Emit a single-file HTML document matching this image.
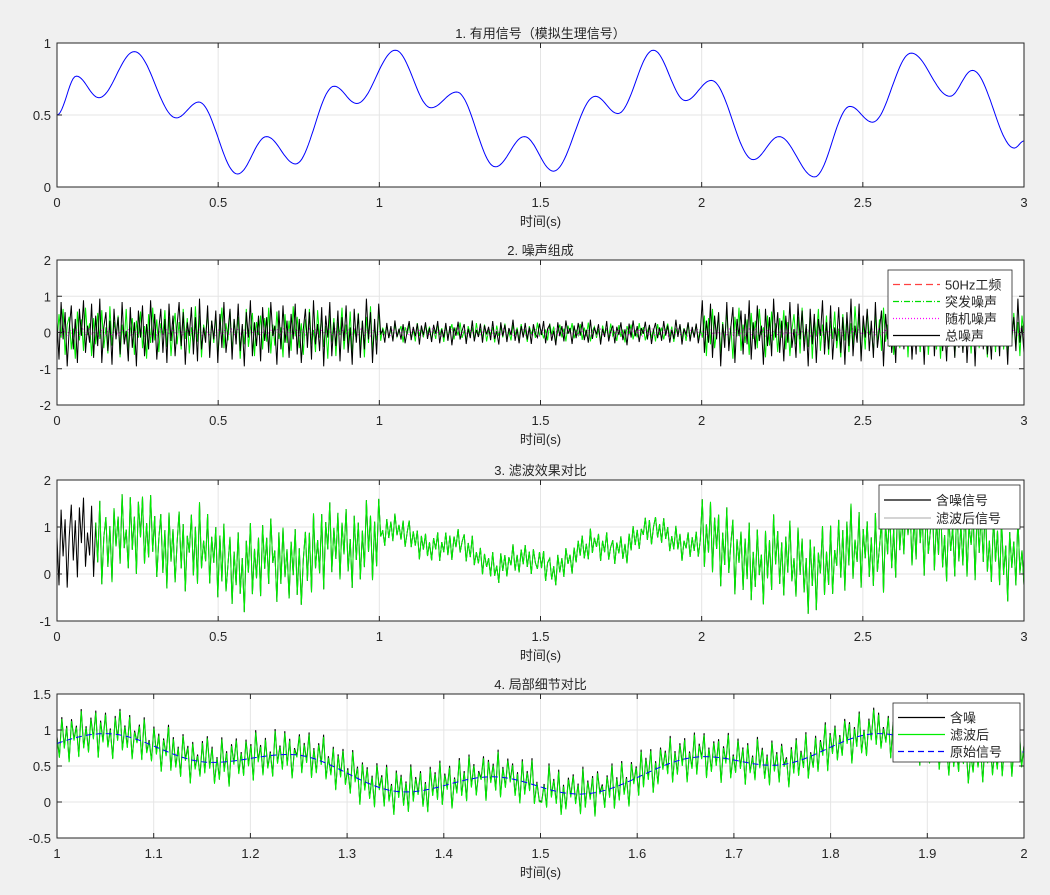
<!DOCTYPE html>
<html><head><meta charset="utf-8"><style>
html,body{margin:0;padding:0;background:#f0f0f0;width:1050px;height:895px;overflow:hidden}
svg{display:block;font-family:"Liberation Sans","Noto Sans CJK SC",sans-serif}
</style></head><body>
<svg id="fig" width="1050" height="895"></svg>
<script>
// Panel 1 signal (read at extrema)
const sigT=[0,0.06,0.13,0.24,0.37,0.44,0.56,0.65,0.74,0.86,0.93,1.05,1.16,1.24,1.36,1.45,1.54,1.67,1.74,1.85,1.95,2.03,2.16,2.24,2.35,2.46,2.53,2.65,2.77,2.84,2.97,3.0];
const sigV=[0.5,0.77,0.62,0.94,0.48,0.59,0.09,0.35,0.16,0.70,0.58,0.95,0.55,0.66,0.14,0.35,0.11,0.63,0.51,0.95,0.60,0.74,0.19,0.35,0.07,0.56,0.45,0.93,0.63,0.81,0.27,0.32];
// noise envelope per segment [0-1],[1-2],[2-3]
const envBreaks=[0,1,2,3];
const envAmp=[0.85,0.32,0.85];
const noiseA=[0.3,-0.8,0.9,-0.2,0.6,-1.0,0.1,0.8,-0.5,0.4,-0.9,0.7,-0.1,0.95,-0.6,0.2,-0.3,0.85,-0.75,0.5,-0.4,1.0,-0.9,0.15,0.6,-0.55,0.35,-0.95,0.7,-0.2,0.45,-0.65,0.9,-0.35,0.05,-0.85,0.75,-0.45,0.3,-1.0,0.65,-0.15,0.8,-0.7,0.25,-0.5,0.95,-0.3,0.55,-0.8,0.1,0.7,-0.6,0.4,-0.9,0.85,-0.25,0.5,-0.7,0.2,
0.9,-0.4,0.6,-0.95,0.3,-0.1,0.75,-0.65,0.45,-0.85,1.0,-0.5,0.15,-0.3,0.8,-0.75,0.35,-0.2,0.65,-0.9,0.55,-0.45,0.9,-0.6,0.05,0.7,-0.8,0.4,-0.35,0.85,-0.55,0.25,-1.0,0.6,-0.15,0.95,-0.7,0.3,-0.4,0.5,-0.85,0.75,-0.25,0.45,-0.6,0.9,-0.1,0.2,-0.95,0.65,-0.5,0.8,-0.3,0.35,-0.75,0.55,
-0.2,0.85,-0.65,0.4,-0.9,0.1,0.7,-0.45,0.6,-0.8,0.95,-0.35,0.25,-0.55,0.75,-1.0,0.5,-0.15,0.9,-0.7,0.3,-0.4,0.65,-0.85,0.45,-0.25,0.8,-0.6,0.15,-0.95,0.7,-0.3,0.55,-0.75,0.35,-0.5,1.0,-0.2,0.6,-0.9,0.4,-0.65,0.85,-0.1,0.2,-0.8,0.75,-0.45,0.5,-0.7,0.95,-0.35,0.3,-0.55,0.65,-0.85,0.1,0.9,-0.6,0.45,
-0.3,0.7,-0.95,0.55,-0.2,0.8,-0.5,0.35,-0.75,0.6,-0.1,0.9,-0.85,0.25,-0.4,0.75,-0.65,0.5,-1.0,0.4,-0.25,0.85,-0.55,0.15,0.65,-0.9,0.3,-0.45,0.95,-0.7,0.2,-0.35,0.7,-0.8,0.55,-0.15,0.45,-0.6,0.9,-0.5,0.1,-0.95,0.8,-0.3,0.6,-0.75,0.35,-0.2,1.0,-0.65,0.25,-0.85,0.5,-0.4,0.75,-0.55,0.4,-0.9,0.65,-0.1];
const noiseB=[-0.4,0.7,-0.2,0.9,-0.85,0.3,0.6,-0.65,0.15,-1.0,0.8,-0.3,0.5,-0.7,0.95,-0.1,0.35,-0.9,0.55,-0.45,0.75,-0.25,0.85,-0.6,0.2,-0.8,1.0,-0.5,0.4,-0.15,0.65,-0.95,0.3,-0.35,0.9,-0.7,0.1,0.55,-0.85,0.45,-0.2,0.8,-0.6,0.25,-1.0,0.7,-0.4,0.95,-0.3,0.5,-0.75,0.35,-0.1,0.85,-0.55,0.6,-0.9,0.15,0.75,-0.45,
0.4,-0.65,0.9,-0.25,0.55,-0.8,0.2,-0.5,1.0,-0.35,0.65,-0.95,0.3,-0.15,0.8,-0.7,0.45,-0.4,0.7,-0.85,0.1,0.95,-0.6,0.35,-0.3,0.85,-0.75,0.5,-0.2,0.6,-1.0,0.25,-0.45,0.9,-0.55,0.15,0.75,-0.9,0.4,-0.1,0.65,-0.65,0.55,-0.35,0.95,-0.8,0.3,-0.5,0.8,-0.25,0.2,-0.95,0.7,-0.4,0.45,-0.7,1.0,-0.15,0.6,-0.6,
0.35,-0.85,0.5,-0.3,0.9,-0.45,0.1,-0.75,0.85,-0.2,0.65,-0.55,0.25,-1.0,0.7,-0.35,0.55,-0.9,0.4,-0.1,0.95,-0.65,0.3,-0.5,0.8,-0.8,0.15,-0.25,0.75,-0.6,0.45,-0.95,0.6,-0.4,1.0,-0.7,0.2,-0.3,0.85,-0.85,0.5,-0.15,0.7,-0.55,0.35,-0.75,0.9,-0.45,0.1,0.65,-1.0,0.55,-0.2,0.8,-0.6,0.25,-0.9,0.95,-0.35,0.4,
-0.5,0.75,-0.1,0.6,-0.8,0.3,-0.65,0.9,-0.25,0.45,-0.95,0.7,-0.4,0.15,0.85,-0.7,0.5,-0.3,1.0,-0.55,0.2,-0.85,0.65,-0.15,0.4,-0.75,0.95,-0.45,0.35,-0.6,0.8,-0.9,0.25,-0.2,0.55,-1.0,0.7,-0.35,0.6,-0.5,0.9,-0.65,0.1,-0.8,0.75,-0.25,0.5,-0.7,0.85,-0.4,0.3,-0.95,0.65,-0.15,0.45,-0.55,1.0,-0.3,0.2,-0.6];
const noiseC=[0.2,-0.6,0.9,-0.3,0.5,-0.9,0.7,-0.1,0.4,-0.8,1.0,-0.5,0.3,-0.7,0.6,-0.2,0.85,-0.95,0.45,-0.35,0.75,-0.55,0.15,-1.0,0.65,-0.25,0.95,-0.6,0.35,-0.45,0.8,-0.85,0.25,-0.15,0.55,-0.75,0.9,-0.4,0.1,-0.65,0.7,-0.3,0.5,-0.9,0.4,-0.2,1.0,-0.7,0.6,-0.5,
0.3,-0.8,0.85,-0.1,0.45,-0.95,0.65,-0.35,0.2,-0.6,0.75,-0.45,0.95,-0.25,0.55,-0.85,0.15,-0.7,0.9,-0.4,0.35,-1.0,0.6,-0.15,0.8,-0.55,0.25,-0.65,0.7,-0.3,0.5,-0.9,1.0,-0.2,0.4,-0.75,0.65,-0.5,0.1,-0.85,0.95,-0.35,0.3,-0.6,0.85,-0.45,0.55,-0.95,0.2,-0.1,
0.75,-0.7,0.45,-0.25,0.9,-0.8,0.35,-0.55,0.6,-0.15,1.0,-0.65,0.25,-0.4,0.7,-0.9,0.5,-0.3,0.8,-0.5,0.15,-0.75,0.95,-0.2,0.4,-1.0,0.65,-0.35,0.55,-0.6,0.3,-0.85,0.85,-0.1,0.45,-0.7,0.9,-0.45,0.2,-0.95,0.75,-0.25,0.6,-0.55,0.35,-0.8,1.0,-0.4,0.5,-0.15,
0.7,-0.65,0.25,-0.9,0.8,-0.3,0.55,-0.5,0.95,-0.75,0.4,-0.2,0.65,-1.0,0.15,-0.45,0.85,-0.6,0.3,-0.85,0.9,-0.35,0.5,-0.7,0.2,-0.1,0.75,-0.95,0.6,-0.25,0.45,-0.55,1.0,-0.8,0.35,-0.4,0.7,-0.15,0.55,-0.65,0.25,-0.9,0.8,-0.5,0.4,-0.3,0.95,-0.75,0.1,-0.6];
const small50=[0.1,-0.1];

const NS="http://www.w3.org/2000/svg";
const svg=document.getElementById('fig');
function mk(tag,attrs,parent){const e=document.createElementNS(NS,tag);for(const k in attrs)e.setAttribute(k,attrs[k]);(parent||svg).appendChild(e);return e;}
function txt(x,y,s,anchor,size,parent){const t=mk('text',{x:x,y:y,'text-anchor':anchor||'middle','font-size':size||13,fill:'#262626'},parent);t.textContent=s;return t;}

function sig(t){
  let i=0;while(i<sigT.length-2&&t>sigT[i+1])i++;
  const t0=sigT[i],t1=sigT[i+1],u=(t-t0)/(t1-t0);
  const h=(1-Math.cos(Math.PI*u))/2;return sigV[i]+(sigV[i+1]-sigV[i])*h;
}
function env(t){for(let i=0;i<envAmp.length;i++)if(t<envBreaks[i+1]||i==envAmp.length-1)return envAmp[i];}
const noiseAB=noiseA.concat(noiseB);
const noiseBA=noiseB.concat(noiseA);
const noiseCC=noiseC.concat(noiseC.slice().reverse());

const X0=57,X1=1024;
function makeAxes(p){
  const g=mk('g',{});
  
  
  const sx=v=>X0+(v-p.xmin)/(p.xmax-p.xmin)*(X1-X0);
  const sy=v=>p.bot-(v-p.ymin)/(p.ymax-p.ymin)*(p.bot-p.top);
  mk('rect',{x:X0,y:p.top,width:X1-X0,height:p.bot-p.top,fill:'#fff'},g);
  const grid=mk('g',{stroke:'#e5e5e5','stroke-width':1},g);
  
  p.xt.forEach(v=>mk('line',{x1:sx(v),x2:sx(v),y1:p.top,y2:p.bot},grid));
  p.yt.forEach(v=>mk('line',{x1:X0,x2:X1,y1:sy(v),y2:sy(v)},grid));
  const plot=mk('g',{},g);
  const clip=mk('clipPath',{id:'c'+p.id},g);mk('rect',{x:X0,y:p.top,width:X1-X0,height:p.bot-p.top},clip);
  plot.setAttribute('clip-path','url(#c'+p.id+')');
  p.draw(plot,sx,sy);
  mk('rect',{x:X0,y:p.top,width:X1-X0,height:p.bot-p.top,fill:'none',stroke:'#262626','stroke-width':1},g);
  const tk=mk('g',{},g);
  p.xt.forEach((v,i)=>{mk('line',{x1:sx(v),x2:sx(v),y1:p.bot,y2:p.bot-5,stroke:'#262626'},g);mk('line',{x1:sx(v),x2:sx(v),y1:p.top,y2:p.top+5,stroke:'#262626'},g);txt(sx(v),p.bot+20,p.xl[i],'middle',13,tk);});
  const ty=mk('g',{},g);
  p.yt.forEach((v,i)=>{mk('line',{x1:X0,x2:X0+5,y1:sy(v),y2:sy(v),stroke:'#262626'},g);mk('line',{x1:X1,x2:X1-5,y1:sy(v),y2:sy(v),stroke:'#262626'},g);txt(X0-6,sy(v)+5,p.yl[i],'end',13,ty);});
  const tt=txt((X0+X1)/2,p.top-5,p.title,'middle',13,g);
  const xl=txt((X0+X1)/2,p.bot+39,'时间(s)','middle',13,g);
  if(p.legend){
    const L=p.legend;const lg=mk('g',{},g);
    
    mk('rect',{x:L.x,y:L.y,width:L.w,height:L.items.length*L.dy+8,fill:'#fff',stroke:'#262626','stroke-width':0.8},lg);
    L.items.forEach((it,i)=>{
      const yy=L.y+6+L.dy*(i+0.5);
      const ent=mk('g',{},lg);
      mk('line',{x1:L.x+5,x2:L.x+L.lw,y1:yy,y2:yy,stroke:it.c,'stroke-width':it.w||1.3,'stroke-dasharray':it.d||'none'},ent);
      txt(L.x+L.lw+5,yy+5,it.t,'start',13,ent);
    });
  }
  return g;
}
function path(parent,pts,color,w,dash){return mk('path',{d:'M'+pts.map(p=>p[0].toFixed(1)+','+p[1].toFixed(1)).join('L'),fill:'none',stroke:color,'stroke-width':w||1,'stroke-dasharray':dash||'none'},parent);}

const xt3=[0,0.5,1,1.5,2,2.5,3],xl3=['0','0.5','1','1.5','2','2.5','3'];
makeAxes({id:1,name:'panel-useful-signal',top:43,bot:187,xmin:0,xmax:3,ymin:0,ymax:1,xt:xt3,xl:xl3,yt:[0,0.5,1],yl:['0','0.5','1'],title:'1. 有用信号（模拟生理信号）',
 draw:(g,sx,sy)=>{const pts=[];for(let k=0;k<=600;k++){const t=3*k/600;pts.push([sx(t),sy(sig(t))]);}const l=path(g,pts,'#0000ff',1);}});
makeAxes({id:2,name:'panel-noise',top:260,bot:405,xmin:0,xmax:3,ymin:-2,ymax:2,xt:xt3,xl:xl3,yt:[-2,-1,0,1,2],yl:['-2','-1','0','1','2'],title:'2. 噪声组成',
 legend:{x:888,y:270,w:124,dy:17,lw:52,items:[{t:'50Hz工频',c:'#ff4040',d:'7,4'},{t:'突发噪声',c:'#00dd00',d:'6,2,1,2'},{t:'随机噪声',c:'#ff00ff',d:'1,2'},{t:'总噪声',c:'#000'}]},
 draw:(g,sx,sy)=>{
  const n=noiseBA.length;const gp=[];for(let i=0;i<n;i++){const t=3*i/(n-1);gp.push([sx(t),sy(noiseBA[i]*env(t)*0.85)]);}
  const l1=path(g,gp,'#00ee00',1);
  const rp=[];for(let i=0;i<300;i++){const t=3*i/299;rp.push([sx(t),sy(small50[i%2])]);}
  const l2=path(g,rp,'#ff00ff',0.8,'1,2');
  const m=noiseAB.length;const bp=[];for(let i=0;i<m;i++){const t=3*i/(m-1);bp.push([sx(t),sy(noiseAB[i]*env(t)*1.1)]);}
  const l3=path(g,bp,'#000',1);
 }});
makeAxes({id:3,name:'panel-filter-compare',top:480,bot:621,xmin:0,xmax:3,ymin:-1,ymax:2,xt:xt3,xl:xl3,yt:[-1,0,1,2],yl:['-1','0','1','2'],title:'3. 滤波效果对比',
 legend:{x:879,y:485,w:141,dy:18,lw:52,items:[{t:'含噪信号',c:'#000'},{t:'滤波后信号',c:'#bbb'}]},
 draw:(g,sx,sy)=>{
  const m=noiseAB.length;const bp=[],gp=[];
  for(let i=0;i<m;i++){const t=3*i/(m-1);const y=sy(sig(t)+noiseAB[i]*env(t)*1.1);bp.push([sx(t),y]);if(t>=0.12)gp.push([sx(t),y]);}
  const l1=path(g,bp,'#000',1);
  const l2=path(g,gp,'#00ee00',1);
 }});
const xt4=[1,1.1,1.2,1.3,1.4,1.5,1.6,1.7,1.8,1.9,2],xl4=['1','1.1','1.2','1.3','1.4','1.5','1.6','1.7','1.8','1.9','2'];
makeAxes({id:4,name:'panel-detail-compare',top:694,bot:838,xmin:1,xmax:2,ymin:-0.5,ymax:1.5,xt:xt4,xl:xl4,yt:[-0.5,0,0.5,1,1.5],yl:['-0.5','0','0.5','1','1.5'],title:'4. 局部细节对比',
 legend:{x:893,y:703,w:127,dy:17,lw:52,items:[{t:'含噪',c:'#000'},{t:'滤波后',c:'#00ee00'},{t:'原始信号',c:'#0000ff',d:'6,4'}]},
 draw:(g,sx,sy)=>{
  const n=noiseCC.length;const bp=[],gp=[];
  for(let i=0;i<n;i++){const t=1+i/(n-1);bp.push([sx(t),sy(sig(t)+noiseCC[i]*0.36+0.02)]);gp.push([sx(t),sy(sig(t)+noiseCC[i]*0.35)]);}
  const l1=path(g,bp,'#000',1);
  const l2=path(g,gp,'#00ee00',1);
  const op=[];for(let k=0;k<=300;k++){const t=1+k/300;op.push([sx(t),sy(sig(t))]);}
  const l3=path(g,op,'#0000ff',1,'6,4');
 }});
</script>
</body></html>
